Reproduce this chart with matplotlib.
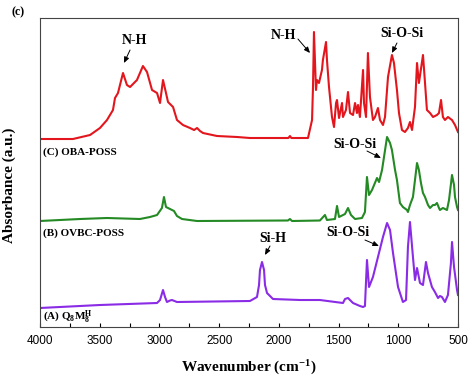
import matplotlib
matplotlib.use("Agg")
import matplotlib.pyplot as plt
from matplotlib.ticker import MultipleLocator

plt.rcParams["mathtext.fontset"] = "custom"
plt.rcParams["mathtext.rm"] = "Liberation Serif:bold"
plt.rcParams["mathtext.bf"] = "Liberation Serif:bold"
plt.rcParams["mathtext.it"] = "Liberation Serif:bold"

# Spectra (wavenumber, absorbance a.u. incl. stacking offset)
wn_c = [4000, 3724, 3581, 3498, 3439, 3389, 3372, 3347, 3305, 3272, 3246, 3188, 3138, 3104,
        3062, 3020, 2995, 2970, 2945, 2928, 2886, 2853, 2803, 2744, 2710, 2685, 2660, 2635,
        2518, 2350, 2242, 1920, 1907, 1895, 1756, 1722, 1714, 1706, 1689, 1681, 1664, 1639,
        1631, 1605, 1597, 1580, 1555, 1538, 1521, 1513, 1496, 1471, 1463, 1438, 1421, 1404,
        1379, 1362, 1346, 1337, 1321, 1295, 1287, 1270, 1254, 1237, 1212, 1195, 1170, 1153,
        1128, 1111, 1086, 1053, 1036, 1011, 994, 969, 944, 919, 902, 885, 860, 843, 827, 793,
        776, 760, 734, 709, 676, 659, 642, 626, 609, 584, 550, 525, 500]
ab_c = [188, 188, 192, 199, 207, 217, 229, 234, 254, 242, 240, 247, 261, 255,
        237, 234, 224, 247, 234, 225, 220, 207, 202, 199, 197, 199, 196, 194,
        191, 190, 189, 189, 191, 189, 189, 207, 240, 295, 237, 247, 244, 257,
        267, 285, 267, 240, 210, 200, 224, 227, 209, 224, 210, 217, 235, 214,
        212, 224, 214, 222, 210, 257, 224, 210, 274, 230, 207, 210, 219, 207,
        202, 210, 250, 272, 264, 237, 214, 197, 195, 199, 205, 197, 220, 264, 244, 272,
        244, 217, 214, 210, 212, 214, 227, 210, 207, 210, 207, 202, 195]

wn_b = [4000, 3665, 3439, 3163, 3079, 3020, 2979, 2962, 2945, 2911, 2878, 2853, 2811, 2685,
        1924, 1907, 1890, 1656, 1614, 1597, 1530, 1513, 1496, 1446, 1421, 1396, 1362, 1304,
        1279, 1262, 1245, 1220, 1178, 1161, 1136, 1094, 1069, 1053, 1027, 1011, 986, 961,
        927, 919, 902, 877, 860, 843, 827, 810, 793, 776, 751, 734, 709, 693, 676, 659,
        651, 626, 592, 575, 550, 533, 525, 508, 500]
ab_b = [106, 108, 109, 108, 110, 112, 119, 130, 120, 118, 116, 111, 108, 106,
        106.5, 108, 106, 106.5, 112, 107, 108, 121, 110, 113, 119, 112, 108, 109,
        115, 150, 132, 137, 149, 145, 157, 190, 184, 177, 157, 147, 124, 120,
        117, 115, 122, 130, 147, 164, 157, 144, 134, 130, 122, 119, 122, 122, 124, 119,
        117, 119, 117, 127, 152, 142, 130, 120, 117]

wn_a = [4000, 3498, 3020, 2995, 2970, 2953, 2937, 2911, 2895, 2853, 2242, 2183, 2166, 2158,
        2141, 2124, 2116, 2099, 2049, 1823, 1656, 1463, 1446, 1421, 1379, 1321, 1295, 1279,
        1262, 1245, 1212, 1170, 1128, 1094, 1069, 1044, 1002, 961, 935, 919, 902, 877, 860,
        843, 818, 793, 768, 751, 718, 693, 667, 651, 634, 609, 584, 559, 550, 533, 508, 500]
ab_a = [19, 22, 24, 27, 37, 30, 25, 26.5, 27, 25, 26, 30, 42, 57,
        65, 57, 42, 34, 28, 27, 27, 24, 28, 29, 24, 21, 20, 21,
        67, 40, 50, 70, 90, 104, 97, 74, 40, 25, 27, 80, 105, 70, 47,
        59, 44, 42, 65, 54, 40, 35, 29, 31, 30, 25, 32, 64, 85, 60, 37, 32]

x_ticks = [4000, 3500, 3000, 2500, 2000, 1500, 1000, 500]

fig = plt.figure(figsize=(4.74, 3.79), dpi=100)
ax = fig.add_axes([0.0844, 0.1372, 0.8818, 0.8153])

ax.plot(wn_c, ab_c, color="#e3161d", lw=1.5)
ax.plot(wn_b, ab_b, color="#248a24", lw=1.5)
ax.plot(wn_a, ab_a, color="#8a2be6", lw=1.5)

ax.set_xlim(4000, 500)
ax.set_ylim(0, 309)
ax.set_xticks(x_ticks)
ax.xaxis.set_minor_locator(MultipleLocator(250))
ax.set_yticks([])
ax.tick_params(axis="x", which="both", direction="in", length=3, width=0.8,
               labelsize=8.5, pad=6)
for lab in ax.get_xticklabels():
    lab.set_fontfamily("Liberation Sans")
for s in ax.spines.values():
    s.set_linewidth(0.8)
    s.set_color("#444444")

serif = dict(family="Liberation Serif", weight="bold")
ax.set_xlabel(r"Wavenumber (cm$^{-1}$)", fontsize=11, labelpad=8, **serif)
ax.set_ylabel("Absorbance (a.u.)", fontsize=11, **serif)
ax.yaxis.set_label_coords(-0.058, 0.46)
fig.text(0.024, 0.967, "(c)", fontsize=8.5, va="center", **serif)

ax.text(3975, 175, "(C) OBA-POSS", fontsize=8, va="center", **serif)
ax.text(3975, 94, "(B) OVBC-POSS", fontsize=8, va="center", **serif)
ax.text(3975, 10, r"(A) Q$_8$M$_8^H$", fontsize=8, va="center", **serif)

arrow = dict(arrowstyle="-|>,head_length=0.35,head_width=0.15", color="black", lw=0.7,
             shrinkA=0, shrinkB=0)
notes = [
    ("N-H", (3205, 287), (3246, 277), (3297, 264)),
    ("N-H", (1965, 292), (1840, 288), (1739, 274)),
    ("Si-O-Si", (969, 294), (1011, 284), (1053, 274)),
    ("Si-O-Si", (1362, 183), (1262, 176), (1145, 169)),
    ("Si-H", (2049, 89), (2074, 81), (2116, 72)),
    ("Si-O-Si", (1421, 95), (1279, 87), (1162, 81)),
]
for txt, pos, start, end in notes:
    ax.text(pos[0], pos[1], txt, fontsize=10, ha="center", va="center", **serif)
    ax.annotate("", xy=end, xytext=start, arrowprops=arrow)

fig.savefig("out.png", dpi=100)
